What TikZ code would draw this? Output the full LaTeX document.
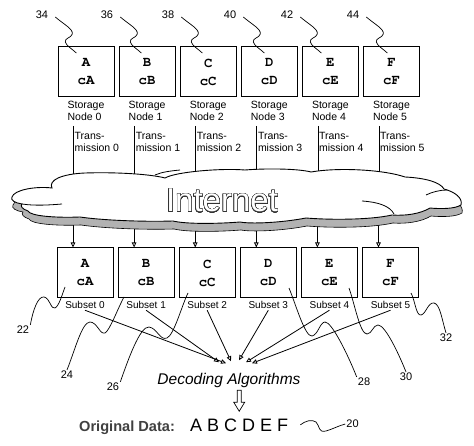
\documentclass[tikz,border=0pt]{standalone}
\usepackage[T1]{fontenc}
\usepackage{fontspec}
\setmainfont{Liberation Sans}
\usepackage{contour}
\usetikzlibrary{arrows.meta,calc}

\contourlength{0.4pt}
\contournumber{32}

\newcommand\courierbold{\fontencoding{T1}\fontfamily{pcr}\fontseries{b}\selectfont}

\tikzset{
    storebox/.style={draw, line width=1pt, minimum width=56pt, minimum height=50pt,
        align=center, font=\courierbold\fontsize{14}{18}\selectfont},
    captext/.style={align=left, inner sep=1pt, font=\fontsize{10.5}{12}\selectfont},
    subtext/.style={inner sep=1pt, font=\fontsize{10}{12}\selectfont},
    refnum/.style={inner sep=1pt, font=\fontsize{11}{12}\selectfont},
    leader/.style={line width=0.7pt},
    feedarrow/.style={->, line width=0.8pt},
}

% outline of the cloud, in pixel units
\newcommand\cloudoutline{(12,197)
    .. controls (14,190) and (35,186) .. (52,188)
    .. controls (48,180) and (62,174) .. (85,173)
    .. controls (115,172) and (150,174) .. (165,178)
    .. controls (175,172) and (220,168) .. (245,170)
    .. controls (270,168) and (300,169) .. (311,172)
    .. controls (340,167) and (385,170) .. (405,177)
    .. controls (425,178) and (440,182) .. (444,189)
    .. controls (455,192) and (463,198) .. (461,205)
    .. controls (455,209) and (440,209) .. (430,208)
    .. controls (420,214) and (405,216) .. (392,215)
    .. controls (370,220) and (330,220) .. (306,218)
    .. controls (280,223) and (250,224) .. (240,222)
    .. controls (215,224) and (185,224) .. (173,221)
    .. controls (140,222) and (100,220) .. (80,217)
    .. controls (55,218) and (30,216) .. (28,211)
    .. controls (22,209) and (20,206) .. (22,204)
    .. controls (15,203) and (10,200) .. (12,197) -- cycle}

\begin{document}
\begin{tikzpicture}[x=1pt,y=-1pt,>={Triangle[open,length=5pt,width=4.5pt]}]
    \useasboundingbox (0,0) rectangle (474,446);

    % storage nodes
    \foreach \ltr [count=\i from 0] in {A,B,C,D,E,F} {
        \node[storebox] (st\i) at (86+61.1*\i,72) {\ltr\\c\ltr};
        \node[captext, anchor=north] (sl\i) at ($(st\i.south)+(0,2)$) {Storage\\Node \i};
        \coordinate (tx\i) at (73.5+61.1*\i,126);
        \coordinate (ty\i) at (73.5+61.1*\i,190);
        \node[captext, anchor=north west] (tl\i) at ($(tx\i)+(0,5)$) {Trans-\\mission \i};
        \draw[line width=0.8pt] (tx\i) -- (ty\i);
    }

    \foreach \n/\x in {34/42,36/107,38/168,40/230,42/287,44/353} {
        \node[refnum] (r\n) at (\x,15) {\n};
        \draw[leader, shift={($(r\n.east)+(6,2)$)}] (0,0)
            .. controls (8,7) and (18,12) .. (17,17)
            .. controls (16,21) and (9,21) .. (10,25)
            .. controls (11,29) and (17,32) .. (21,36);
    }

    % subsets
    \foreach \ltr [count=\i from 0] in {A,B,C,D,E,F} {
        \node[storebox] (sb\i) at (85+61.1*\i,273) {\ltr\\c\ltr};
        \node[subtext, anchor=north] (ss\i) at ($(sb\i.south)+(0,2)$) {Subset \i};
        \coordinate (co\i) at (73+61.1*\i,220);
        \draw[feedarrow] (co\i) -- (co\i |- sb\i.north);
    }

    % cloud
    \filldraw[fill=gray!60, line width=0.6pt, shift={(1,8)}] \cloudoutline;
    \filldraw[fill=white, line width=0.9pt] \cloudoutline;
    \draw[line width=0.8pt] (22,204) .. controls (35,206) and (50,205) .. (62,204);
    \draw[line width=0.8pt] (155,175) .. controls (162,172) and (170,171) .. (180,170);
    \draw[line width=0.8pt] (362,201) .. controls (378,202) and (390,206) .. (394,214);
    \draw[line width=0.8pt] (426,195) .. controls (432,192) and (440,190) .. (447,190);
    \node[text=white, font=\fontsize{33}{36}\selectfont] (net) at (222,201)
        {\contour{black!80}{Internet}};

    % decoding
    \node[font=\itshape\fontsize{15.5}{18}\selectfont] (dec) at (229,380)
        {Decoding Algorithms};
    \foreach \i/\dx/\dy in {0/-3/-6,1/-10/-7,2/2/-8,3/10/-9,4/17/-7,5/23/-6} {
        \coordinate (dk\i) at ($(dec.north)+(\dx,\dy)$);
        \draw[feedarrow] (ss\i.south) -- (dk\i);
    }

    \node[font=\bfseries\fontsize{14.6}{16}\selectfont, text=black!75,
        anchor=base west, inner sep=0pt] (orig) at (79,431) {Original Data:};
    \node[font=\fontsize{18}{20}\selectfont, anchor=base west, inner sep=0pt]
        (data) at (190,431) {A B C D E F};
    \draw[line width=0.7pt, shift={($(data.north)+(0,-7)$)}]
        (-2,-21) -- (-2,-9) -- (-5.5,-9) -- (0,0) -- (5.5,-9) -- (2,-9)
        -- (2,-21) -- cycle;

    \node[refnum] (n20) at (352.5,424) {20};
    \draw[leader] ($(data.east)+(12,0)$)
        .. controls (305,421) and (312,419) .. (316,422)
        .. controls (320,426) and (318,433) .. (326,431)
        .. controls (333,429) and (338,426) .. (n20.west);

    % reference numerals of the subsets
    \node[refnum] (n22) at (23,330) {22};
    \node[refnum] (n24) at (67,375) {24};
    \node[refnum] (n26) at (113,387) {26};
    \node[refnum] (n28) at (364,382) {28};
    \node[refnum] (n30) at (406,377) {30};
    \node[refnum] (n32) at (446,338) {32};

    \draw[leader] (n22.north east)
        .. controls (33,310) and (38,296) .. (44,297)
        .. controls (50,298) and (51,310) .. (55,308)
        .. controls (59,306) and (62,295) .. (65,287);
    \draw[leader] (n24.north)
        .. controls (75,350) and (82,322) .. (90,322)
        .. controls (97,322) and (100,335) .. (105,333)
        .. controls (110,330) and (118,308) .. (124,297);
    \draw[leader] (n26.north east)
        .. controls (128,360) and (140,326) .. (149,327)
        .. controls (157,328) and (160,341) .. (167,338)
        .. controls (174,335) and (182,305) .. (188,293);
    \draw[leader] (289,288)
        .. controls (296,305) and (305,337) .. (312,336)
        .. controls (318,335) and (320,322) .. (325,322)
        .. controls (332,322) and (348,355) .. (n28.north west);
    \draw[leader] (349,288)
        .. controls (355,305) and (360,334) .. (367,334)
        .. controls (372,334) and (373,325) .. (378,325)
        .. controls (385,325) and (398,352) .. (n30.north);
    \draw[leader] (411,293)
        .. controls (415,300) and (416,316) .. (421,315)
        .. controls (426,314) and (428,302) .. (434,303)
        .. controls (440,304) and (442,320) .. (n32.north);
\end{tikzpicture}
\end{document}
